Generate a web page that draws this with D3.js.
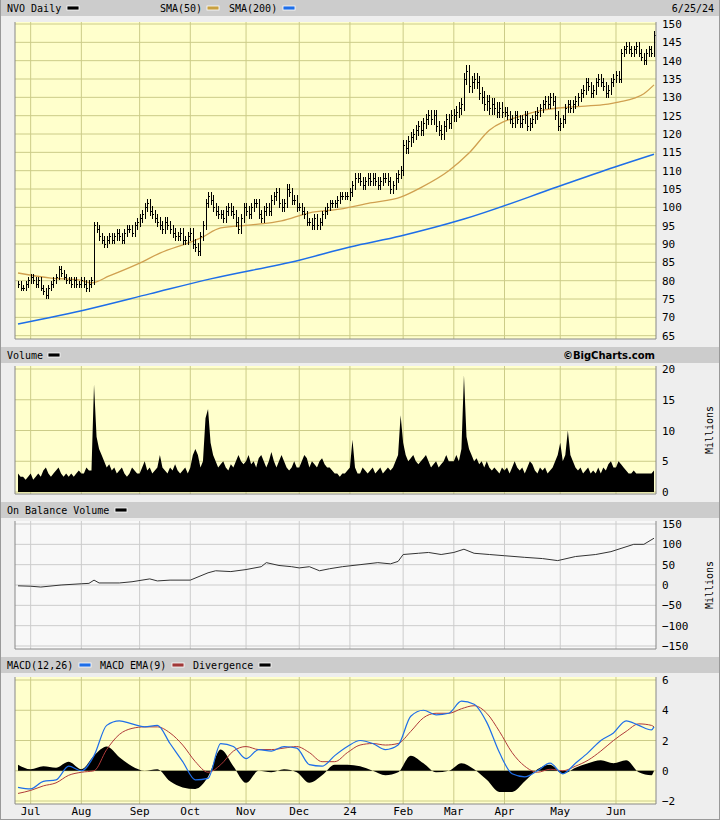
<!DOCTYPE html>
<html><head><meta charset="utf-8">
<script src="https://cdn.jsdelivr.net/npm/d3@7"></script>
<style>body{margin:0;background:#eeeeee}svg{display:block}text{font-family:"DejaVu Sans Mono",monospace;font-size:10px;fill:#000}</style>
</head><body><svg id="c" width="720" height="820"></svg>
<script>
// ---------- data ----------
const monthLabels = ["Jul","Aug","Sep","Oct","Nov","Dec","24","Feb","Mar","Apr","May","Jun"];
const monthStartIdx = [5,25,48,68,90,111,131,152,172,192,214,236];
const closes = [
 79,78,78,79,80,
 81,80,79,80,78,77,76,78,79,80,81,83,82,81,80,80,79,80,79,79,
 80,79,78,79,80,95,94,92,91,90,91,92,91,92,93,92,91,93,94,94,93,95,96,
 97,98,100,101,99,98,97,96,95,94,96,95,94,93,92,92,93,91,91,92,
 93,90,89,88,92,95,101,103,102,100,99,98,98,97,99,100,99,98,96,94,97,100,
 99,98,100,101,101,98,97,99,100,99,102,103,104,101,100,101,105,104,102,102,100,
 100,99,98,96,96,95,97,95,96,98,99,100,101,101,101,102,103,103,103,103,
 104,106,108,108,107,106,107,108,107,108,107,106,107,108,108,107,105,106,108,109,110,
 117,116,118,119,120,121,122,121,123,124,125,124,125,122,121,120,122,124,123,125,
 125,126,127,128,135,137,133,134,135,134,131,130,128,129,127,128,127,126,127,126,
 126,125,124,123,125,124,123,124,125,122,123,124,125,126,127,128,129,128,130,129,125,122,
 123,124,127,128,127,128,129,130,131,132,134,133,131,132,134,135,134,133,131,132,134,135,
 136,135,142,143,144,143,142,143,144,142,141,140,142,143,142,147];
const dayRange = [0.9,0.9,1.1,1.3,1.3,1.3,1.1,1.3,1.5,1.7,1.3,1.3,1.1]; // typical half-range per month
const volumes = [
 3,2.5,2.5,2,2.5,
 3,2,2.5,3,2.5,3.5,4,3,2.5,3,3.5,4,3,2.5,3,2.5,3,2.5,3,3.5,
 3,3,4,3.5,3.5,17.5,9,7,6,5,4,4.5,3.5,4,3,3.5,4,3,2.5,3,4,3.5,3,
 3,4,5,3.5,4,3,3.5,4,6,4,3.5,3,4,3.5,4.5,3.5,3,3.5,4,3,
 4,6,7,6,4,5,12,13.5,8,6,5,4,4.5,5,4,3.5,4.5,4,5,6,5,4.5,
 5,6,4.5,5,4,5.5,6,5,4,5,6.5,5,4,5,6,5,4,3.5,4,5,4,
 4,5,6,5.5,4,5,4.5,4,5,5.5,4.5,4,4,3.5,3,3,2.5,3,3,3.5,
 4,8.5,4,3,3,4,3.5,3,3.5,4,3,3.5,4,3,3.5,4,3.5,4,5,6,12.5,
 8,6,5,5.5,6,5,4.5,5,5.5,6,5,4,4.5,5,4,4.5,5,6,5,5,
 5,6,5,7,19,9,7,6,5,5.5,4.5,5,4,5,4,3.5,4,3.5,3,4,
 3.5,4,3,4,5,4,3.5,4,3,4,5,4.5,3.5,3,4,3.5,4,3,3.5,4,5,6,
 8,5,6,10,6,5,4,3.5,4,3,3.5,4,3,3.5,3,4,3,4,3.5,4.5,5,4,
 4,5,4.5,4,3.5,3,3,3.5,3,3,3,3,3,3,3,3.5];
const sma50Days = [0,13,24,29,36,48,56,68,72,80,92,104,115,127,139,151,159,170,178,186,199,207,219,231,237,247,251];
const sma50 = [82.1,80.7,80.2,79.4,81.3,84.8,87.5,90.5,91.6,94.4,95.2,96.3,98.5,99.5,101.2,102.8,105.4,110,114.8,121,125,126.5,127.4,128,128.7,131,133.4];
const sma200Days = [0,28,52,76,111,131,151,176,213,232,251];
const sma200 = [68.2,72.3,76.4,80.5,85.6,89.2,92.2,96.8,105.6,110.2,114.5];
const obvDays = [0,5,9,17,25,28,30,32,40,45,52,55,60,68,75,78,84,90,96,98,103,108,111,115,119,123,128,135,142,147,150,152,158,162,167,172,176,180,186,192,200,207,213,220,228,234,238,243,247,251];
const obv = [-2,-3,-5,0,3,4,12,5,5,8,15,10,12,12,30,35,33,38,45,55,48,45,42,45,35,40,45,50,55,52,58,75,78,80,75,80,88,78,75,72,68,65,60,70,75,82,90,100,100,115];
const macdDays = d3.range(0,251,5).concat([251]);
const macd = [-1.1,-1.2,-0.7,-0.6,0.3,0.0,1.0,3.0,3.3,3.1,2.9,3.0,1.8,0.6,-0.6,-0.5,1.8,1.6,0.8,1.4,1.3,1.6,1.5,0.4,0.3,1.0,1.6,2.0,1.8,1.4,1.7,3.6,4.0,3.7,3.8,4.6,4.4,3.2,1.2,-0.2,-0.4,0.0,0.5,-0.2,0.5,1.2,2.0,2.5,3.3,3.0,2.7,2.9];
const signal = [-1.5,-1.3,-1.0,-0.8,-0.3,-0.1,0.0,1.4,2.4,2.8,2.9,2.9,2.5,1.7,0.6,-0.1,0.4,1.3,1.6,1.4,1.4,1.5,1.6,1.2,0.6,0.6,1.2,1.7,1.8,1.7,1.8,2.6,3.5,3.8,3.8,4.1,4.3,3.8,2.6,1.2,0.3,-0.1,0.1,0.0,0.3,0.7,1.3,2.0,2.6,3.1,3.0,2.9];
const priceTicks = d3.range(65,151,5);
const volTicks = [0,5,10,15,20];
const obvTicks = [-150,-100,-50,0,50,100,150];
const macdTicks = [-2,0,2,4,6];

// ---------- drawing ----------
const svg = d3.select("#c");
const L=15, R=656;
const x = d3.scaleLinear().domain([0,closes.length-1]).range([18,654]);
const yellow="#ffffcc", grid="#cccc88";
svg.append("rect").attr("x",0.5).attr("y",0.5).attr("width",719).attr("height",819).attr("fill","#eeeeee").attr("stroke","#999");

function header(y, items, right){
  svg.append("rect").attr("x",1).attr("y",y).attr("width",718).attr("height",16).attr("fill","#cccccc");
  items.forEach(it=>{
    svg.append("text").attr("x",it.x).attr("y",y+12).text(it.t);
    if(it.c) svg.append("rect").attr("x",it.sx).attr("y",y+6).attr("width",12).attr("height",4).attr("fill",it.c).attr("stroke","#fff").attr("stroke-width",0.8);
  });
  if(right) svg.append("text").attr("x",right.x).attr("y",y+12).attr("text-anchor",right.a||"start").attr("fill",right.f||"#000").style("font-weight",right.b?"bold":null).style("font-family",right.ff||null).text(right.t);
}
function panel(y0,y1,scale,ticks,bg,gridC,millions){
  svg.append("rect").attr("x",L).attr("y",y0).attr("width",R-L).attr("height",y1-y0).attr("fill",bg);
  const g=svg.append("g");
  ticks.forEach(t=>g.append("line").attr("x1",L).attr("x2",R).attr("y1",scale(t)).attr("y2",scale(t)).attr("stroke",gridC));
  monthStartIdx.forEach(i=>g.append("line").attr("x1",x(i)).attr("x2",x(i)).attr("y1",y0).attr("y2",y1).attr("stroke",gridC));
  const ax=d3.axisRight(scale).tickValues(ticks).tickSize(0).tickPadding(6);
  const a=svg.append("g").attr("transform",`translate(${R},0)`).call(ax);
  a.select(".domain").remove();
  a.selectAll("text").style("font-family","DejaVu Sans Mono").style("font-size","11px");
  if(millions) svg.append("text").attr("transform",`translate(713,${(y0+y1)/2}) rotate(-90)`).attr("text-anchor","middle").text("Millions");
  return g;
}
function frame(y0,y1){
  svg.append("path").attr("d",`M${L},${y0}V${y1}H${R}V${y0}`).attr("fill","none").attr("stroke","#888");
}

header(0,[{x:7,t:"NVO Daily",c:"#000",sx:67},{x:160,t:"SMA(50)",c:"#c8a040",sx:207},{x:229,t:"SMA(200)",c:"#1e6ee8",sx:283}],{x:714,t:"6/25/24",a:"end"});
const yP=d3.scaleLinear().domain([65,150]).range([335.7,24]);
panel(22,339,yP,priceTicks,yellow,grid,false);
const lineFn=(days,vals,ys)=>d3.line().x((d,i)=>x(days[i])).y(d=>ys(d)).curve(d3.curveMonotoneX)(vals);
svg.append("path").attr("d",lineFn(sma200Days,sma200,yP)).attr("fill","none").attr("stroke","#1e6ee8").attr("stroke-width",1.5);
svg.append("path").attr("d",lineFn(sma50Days,sma50,yP)).attr("fill","none").attr("stroke","#d0a050").attr("stroke-width",1.3);
const monthOf=i=>{let m=0;monthStartIdx.forEach((s,k)=>{if(i>=s)m=k+1;});return m;};
const bars=svg.append("g").attr("stroke","#000").attr("stroke-width",1).attr("shape-rendering","crispEdges");
closes.forEach((c,i)=>{
  const o=i?closes[i-1]:c, r=dayRange[monthOf(i)];
  const hi=Math.max(o,c)+r, lo=Math.min(o,c)-r;
  const xx=Math.round(x(i))+0.5;
  bars.append("line").attr("x1",xx).attr("x2",xx).attr("y1",yP(hi)).attr("y2",yP(lo));
  bars.append("line").attr("x1",xx).attr("x2",xx+1.5).attr("y1",yP(c)).attr("y2",yP(c));
});
frame(22,339);

header(347,[{x:7,t:"Volume",c:"#000",sx:48}],{x:655,t:"©BigCharts.com",a:"end",f:"#777",b:true,ff:"DejaVu Sans"});
const yV=d3.scaleLinear().domain([0,20]).range([492,369]);
panel(366,494,yV,volTicks,yellow,grid,true);
svg.append("path").attr("d",d3.area().x((d,i)=>x(i)).y0(yV(0)).y1(d=>yV(d))(volumes)).attr("fill","#000");
frame(366,494);

header(502,[{x:7,t:"On Balance Volume",c:"#000",sx:115}]);
const yO=d3.scaleLinear().domain([-150,150]).range([646,524]);
panel(521,649,yO,obvTicks,"#f8f8f8","#cccccc",true);
svg.append("path").attr("d",d3.line().x((d,i)=>x(obvDays[i])).y(d=>yO(d))(obv)).attr("fill","none").attr("stroke","#333").attr("stroke-width",1);
frame(521,649);

header(657,[{x:7,t:"MACD(12,26)",c:"#1e6ee8",sx:79},{x:100,t:"MACD EMA(9)",c:"#a03838",sx:172},{x:193,t:"Divergence",c:"#000",sx:259}]);
const yM=d3.scaleLinear().domain([-2,6]).range([801,680]);
panel(677,804,yM,macdTicks,yellow,grid,false);
const diverg = macd.map((m,i)=>m-signal[i]);
svg.append("path").attr("d",d3.area().x((d,i)=>x(macdDays[i])).y0(yM(0)).y1(d=>yM(d)).curve(d3.curveMonotoneX)(diverg)).attr("fill","#000");
svg.append("path").attr("d",d3.line().x((d,i)=>x(macdDays[i])).y(d=>yM(d)).curve(d3.curveMonotoneX)(signal)).attr("fill","none").attr("stroke","#b03a3a").attr("stroke-width",1);
svg.append("path").attr("d",d3.line().x((d,i)=>x(macdDays[i])).y(d=>yM(d)).curve(d3.curveMonotoneX)(macd)).attr("fill","none").attr("stroke","#1e6ee8").attr("stroke-width",1.2);
frame(677,804);
monthStartIdx.forEach((i,k)=>svg.append("text").attr("x",x(i)).attr("y",815).attr("text-anchor","middle").style("font-size","11px").text(monthLabels[k]));
</script></body></html>
